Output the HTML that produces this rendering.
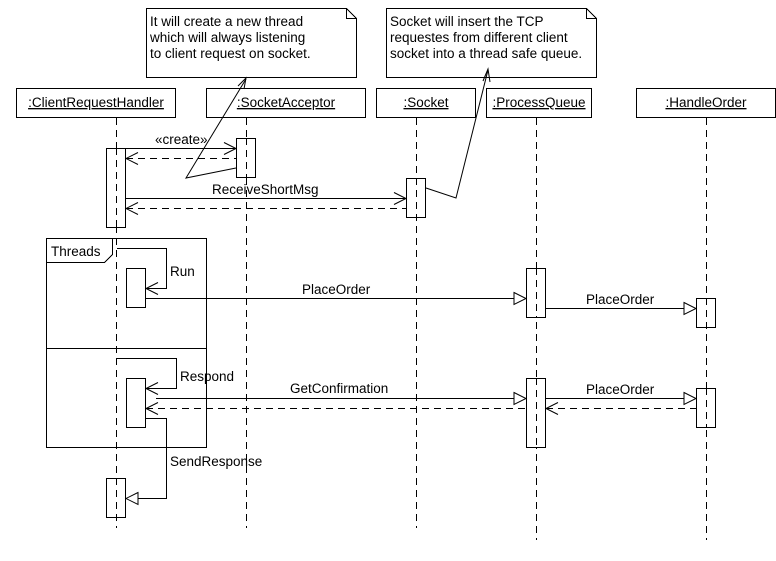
<!DOCTYPE html>
<html><head><style>
html,body{margin:0;padding:0;background:#fff;}
svg text{font-family:"Liberation Sans",Arial,sans-serif;font-size:13.5px;fill:#000;}
</style></head><body>
<svg width="776" height="556" viewBox="0 0 776 556" xmlns="http://www.w3.org/2000/svg">
<g fill="none" stroke="#000" stroke-width="1" shape-rendering="crispEdges">
<path d="M146.5 8.5 H346.5 L356.5 18.5 V77.5 H146.5 Z M346.5 8.5 V18.5 H356.5"/>
<path d="M386.5 8.5 H586.5 L596.5 18.5 V77.5 H386.5 Z M586.5 8.5 V18.5 H596.5"/>
<rect x="16.5" y="88.5" width="159" height="29"/>
<rect x="206.5" y="88.5" width="159" height="29"/>
<rect x="376.5" y="88.5" width="99" height="29"/>
<rect x="486.5" y="88.5" width="105" height="29"/>
<rect x="636.5" y="88.5" width="139" height="29"/>
<g stroke-dasharray="7,5">
<line x1="116.5" y1="118" x2="116.5" y2="528"/>
<line x1="246.5" y1="118" x2="246.5" y2="528"/>
<line x1="416.5" y1="118" x2="416.5" y2="528"/>
<line x1="536.5" y1="118" x2="536.5" y2="540"/>
<line x1="706.5" y1="118" x2="706.5" y2="540"/>
</g>
<rect x="46.5" y="238.5" width="160" height="209"/>
<path d="M46.5 262.5 H104.5 L112.5 254.5 V238.5"/>
<line x1="46.5" y1="348.5" x2="206.5" y2="348.5"/>
<g fill="#fff">
<rect x="106.5" y="148.5" width="19" height="79"/>
<rect x="236.5" y="138.5" width="19" height="39"/>
<rect x="406.5" y="178.5" width="19" height="39"/>
<rect x="126.5" y="268.5" width="19" height="39"/>
<rect x="126.5" y="378.5" width="19" height="49"/>
<rect x="106.5" y="478.5" width="19" height="39"/>
<rect x="526.5" y="268.5" width="19" height="49"/>
<rect x="526.5" y="378.5" width="19" height="69"/>
<rect x="696.5" y="298.5" width="19" height="29"/>
<rect x="696.5" y="388.5" width="19" height="39"/>
</g>
<g stroke-dasharray="7,5">
<line x1="116.5" y1="148" x2="116.5" y2="228"/>
<line x1="246.5" y1="138" x2="246.5" y2="178"/>
<line x1="416.5" y1="178" x2="416.5" y2="218"/>
<line x1="116.5" y1="478" x2="116.5" y2="518"/>
<line x1="536.5" y1="268" x2="536.5" y2="318"/>
<line x1="536.5" y1="378" x2="536.5" y2="448"/>
<line x1="706.5" y1="298" x2="706.5" y2="328"/>
<line x1="706.5" y1="388" x2="706.5" y2="428"/>
</g>
</g>
<g fill="none" stroke="#000" stroke-width="1">
<line x1="126" y1="148.5" x2="236" y2="148.5"/>
<path d="M224 142.5 L236 148.5 L224 154.5"/>
<line x1="126" y1="158.5" x2="236" y2="158.5" stroke-dasharray="7,5"/>
<path d="M138 152.5 L126 158.5 L138 164.5"/>
<line x1="126" y1="198.5" x2="406" y2="198.5"/>
<path d="M394 192.5 L406 198.5 L394 204.5"/>
<line x1="126" y1="208.5" x2="406" y2="208.5" stroke-dasharray="7,5"/>
<path d="M138 202.5 L126 208.5 L138 214.5"/>
<path d="M236 168 L186 178 L246 79"/>
<path d="M238 86 L246 78 L244 89"/>
<path d="M426 188 L456 198 L488 70"/>
<path d="M483 81 L488 69 L490 82"/>
<path d="M117 248.5 H166.5 V288.5 H146"/>
<path d="M158 282.5 L146 288.5 L158 294.5"/>
<line x1="146" y1="298.5" x2="514" y2="298.5"/>
<path d="M514 292.5 L526 298.5 L514 304.5 Z"/>
<line x1="546" y1="308.5" x2="684" y2="308.5"/>
<path d="M684 302.5 L696 308.5 L684 314.5 Z"/>
<path d="M117 358.5 H176.5 V388.5 H146"/>
<path d="M158 382.5 L146 388.5 L158 394.5"/>
<line x1="156" y1="398.5" x2="514" y2="398.5"/>
<path d="M514 392.5 L526 398.5 L514 404.5 Z"/>
<line x1="146" y1="408.5" x2="526" y2="408.5" stroke-dasharray="7,5"/>
<path d="M158 402.5 L146 408.5 L158 414.5"/>
<line x1="546" y1="398.5" x2="684" y2="398.5"/>
<path d="M684 392.5 L696 398.5 L684 404.5 Z"/>
<line x1="546" y1="408.5" x2="696" y2="408.5" stroke-dasharray="7,5"/>
<path d="M558 402.5 L546 408.5 L558 414.5"/>
<path d="M146 418.5 H166.5 V498.5 H138"/>
<path d="M138 492.5 L126 498.5 L138 504.5 Z"/>
</g>
<g>
<text x="150" y="26">It will create a new thread</text>
<text x="150" y="42">which will always listening</text>
<text x="150" y="58">to client request on socket.</text>
<text x="390" y="26">Socket will insert the TCP</text>
<text x="390" y="42">requestes from different client</text>
<text x="390" y="58">socket into a thread safe queue.</text>
<g text-anchor="middle">
<text x="96" y="107" text-decoration="underline">:ClientRequestHandler</text>
<text x="286" y="107" text-decoration="underline">:SocketAcceptor</text>
<text x="426" y="107" text-decoration="underline">:Socket</text>
<text x="539" y="107" text-decoration="underline">:ProcessQueue</text>
<text x="706" y="107" text-decoration="underline">:HandleOrder</text>
</g>
<text x="155" y="144">«create»</text>
<text x="212" y="194">ReceiveShortMsg</text>
<text x="51" y="256">Threads</text>
<text x="170" y="276">Run</text>
<text x="302" y="294">PlaceOrder</text>
<text x="586" y="304">PlaceOrder</text>
<text x="180" y="381">Respond</text>
<text x="290" y="393">GetConfirmation</text>
<text x="586" y="394">PlaceOrder</text>
<text x="170" y="466">SendResponse</text>
</g>
</svg>
</body></html>
